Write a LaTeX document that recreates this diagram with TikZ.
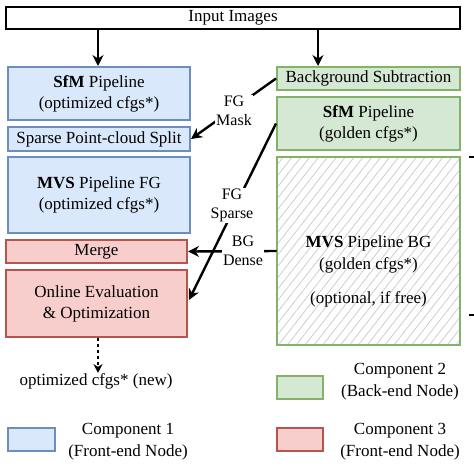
\documentclass[tikz,border=0pt]{standalone}
\usepackage{fontspec}
\setmainfont{Liberation Serif}
\usetikzlibrary{arrows.meta,patterns.meta}
\definecolor{bfill}{HTML}{DAE8FC}\definecolor{bdraw}{HTML}{6C8EBF}
\definecolor{gfill}{HTML}{D5E8D4}\definecolor{gdraw}{HTML}{82B366}
\definecolor{rfill}{HTML}{F8CECC}\definecolor{rdraw}{HTML}{B85450}
\tikzset{
  box/.style={rectangle, inner sep=0pt, line width=2pt, align=center, font=\fontsize{17}{21}\selectfont},
  bluebox/.style={box, fill=bfill, draw=bdraw},
  greenbox/.style={box, fill=gfill, draw=gdraw},
  redbox/.style={box, fill=rfill, draw=rdraw},
  lbl/.style={fill=white, inner sep=1pt, align=center, font=\fontsize{16}{19}\selectfont},
  txt/.style={align=center, inner sep=0pt, font=\fontsize{17}{22}\selectfont},
  arr/.style={line width=2.4pt, -{Stealth[length=11pt,width=11pt]}},
}
\begin{document}
\begin{tikzpicture}[x=1pt,y=-1pt]
\useasboundingbox (0,0) rectangle (474,474);
% top
\node[box, draw=black, fill=white, minimum width=454pt, minimum height=22pt] (input) at (233,18) {Input Images};
% left column
\node[bluebox, minimum width=182pt, minimum height=53pt] (sfmA) at (99,93.5) {\textbf{SfM} Pipeline\\(optimized cfgs*)};
\node[bluebox, minimum width=182pt, minimum height=24pt] (split) at (99,139) {Sparse Point-cloud Split};
\node[bluebox, minimum width=182pt, minimum height=76pt] (mvsA) at (99,195) {\textbf{MVS} Pipeline FG\\(optimized cfgs*)};
\node[redbox, minimum width=181pt, minimum height=23pt] (merge) at (96.5,251.5) {Merge};
\node[redbox, minimum width=181pt, minimum height=67pt] (eval) at (96.5,303.5) {Online Evaluation\\\& Optimization};
% right column
\node[greenbox, minimum width=183pt, minimum height=23pt] (bgsub) at (368.5,78.5) {Background Subtraction};
\node[greenbox, minimum width=183pt, minimum height=53pt] (sfmB) at (368.5,123.5) {\textbf{SfM} Pipeline\\(golden cfgs*)};
\node[box, draw=gdraw, preaction={fill=white}, pattern={Lines[angle=52,distance=7pt,line width=0.75pt]}, pattern color=black!20, minimum width=183pt, minimum height=188pt] (mvsB) at (368.5,251) {};
\node[txt, font=\fontsize{17}{22}\selectfont] (mvsBt) at (368.5,271) {\textbf{MVS} Pipeline BG\\(golden cfgs*)\\[12pt](optional, if free)};
% arrows from input
\coordinate (xl) at (98,0);
\coordinate (xr) at (318,0);
\draw[arr] (input.south -| xl) -- (sfmA.north -| xl);
\draw[arr] (input.south -| xr) -- (bgsub.north -| xr);
% FG mask
\draw[arr] (bgsub.west) -- (split.east);
\node[lbl] (fgmask) at (234,111) {FG\\Mask};
% BG dense
\draw[arr] (mvsB.west) -- (merge.east);
\node[lbl] (bgdense) at (243,251) {BG\\Dense};
% FG sparse
\coordinate (sparseEnd) at (189,300);
\draw[arr] (sfmB.west) -- (sparseEnd);
\node[lbl] (fgsparse) at (232,205) {FG\\Sparse};
% output
\node[txt] (newcfg) at (96,381) {optimized cfgs* (new)};
\draw[line width=1.6pt, dashed, -{Stealth[length=9pt,width=9pt]}] (eval.south -| xl) -- (newcfg.north -| xl);
% legend
\node[greenbox, minimum width=46pt, minimum height=23pt] (leg2) at (300,387.5) {};
\node[txt] (leg2t) at (400,381.5) {Component 2\\(Back-end Node)};
\node[bluebox, minimum width=47pt, minimum height=23pt] (leg1) at (31.5,439.5) {};
\node[txt] (leg1t) at (128,441.5) {Component 1\\(Front-end Node)};
\node[redbox, minimum width=46pt, minimum height=23pt] (leg3) at (300,439.5) {};
\node[txt] (leg3t) at (400,441.5) {Component 3\\(Front-end Node)};
% small ticks at right edge
\draw[line width=1.2pt] (469,157) -- (474,157);
\draw[line width=1.2pt] (469,315) -- (474,315);
\end{tikzpicture}
\end{document}
